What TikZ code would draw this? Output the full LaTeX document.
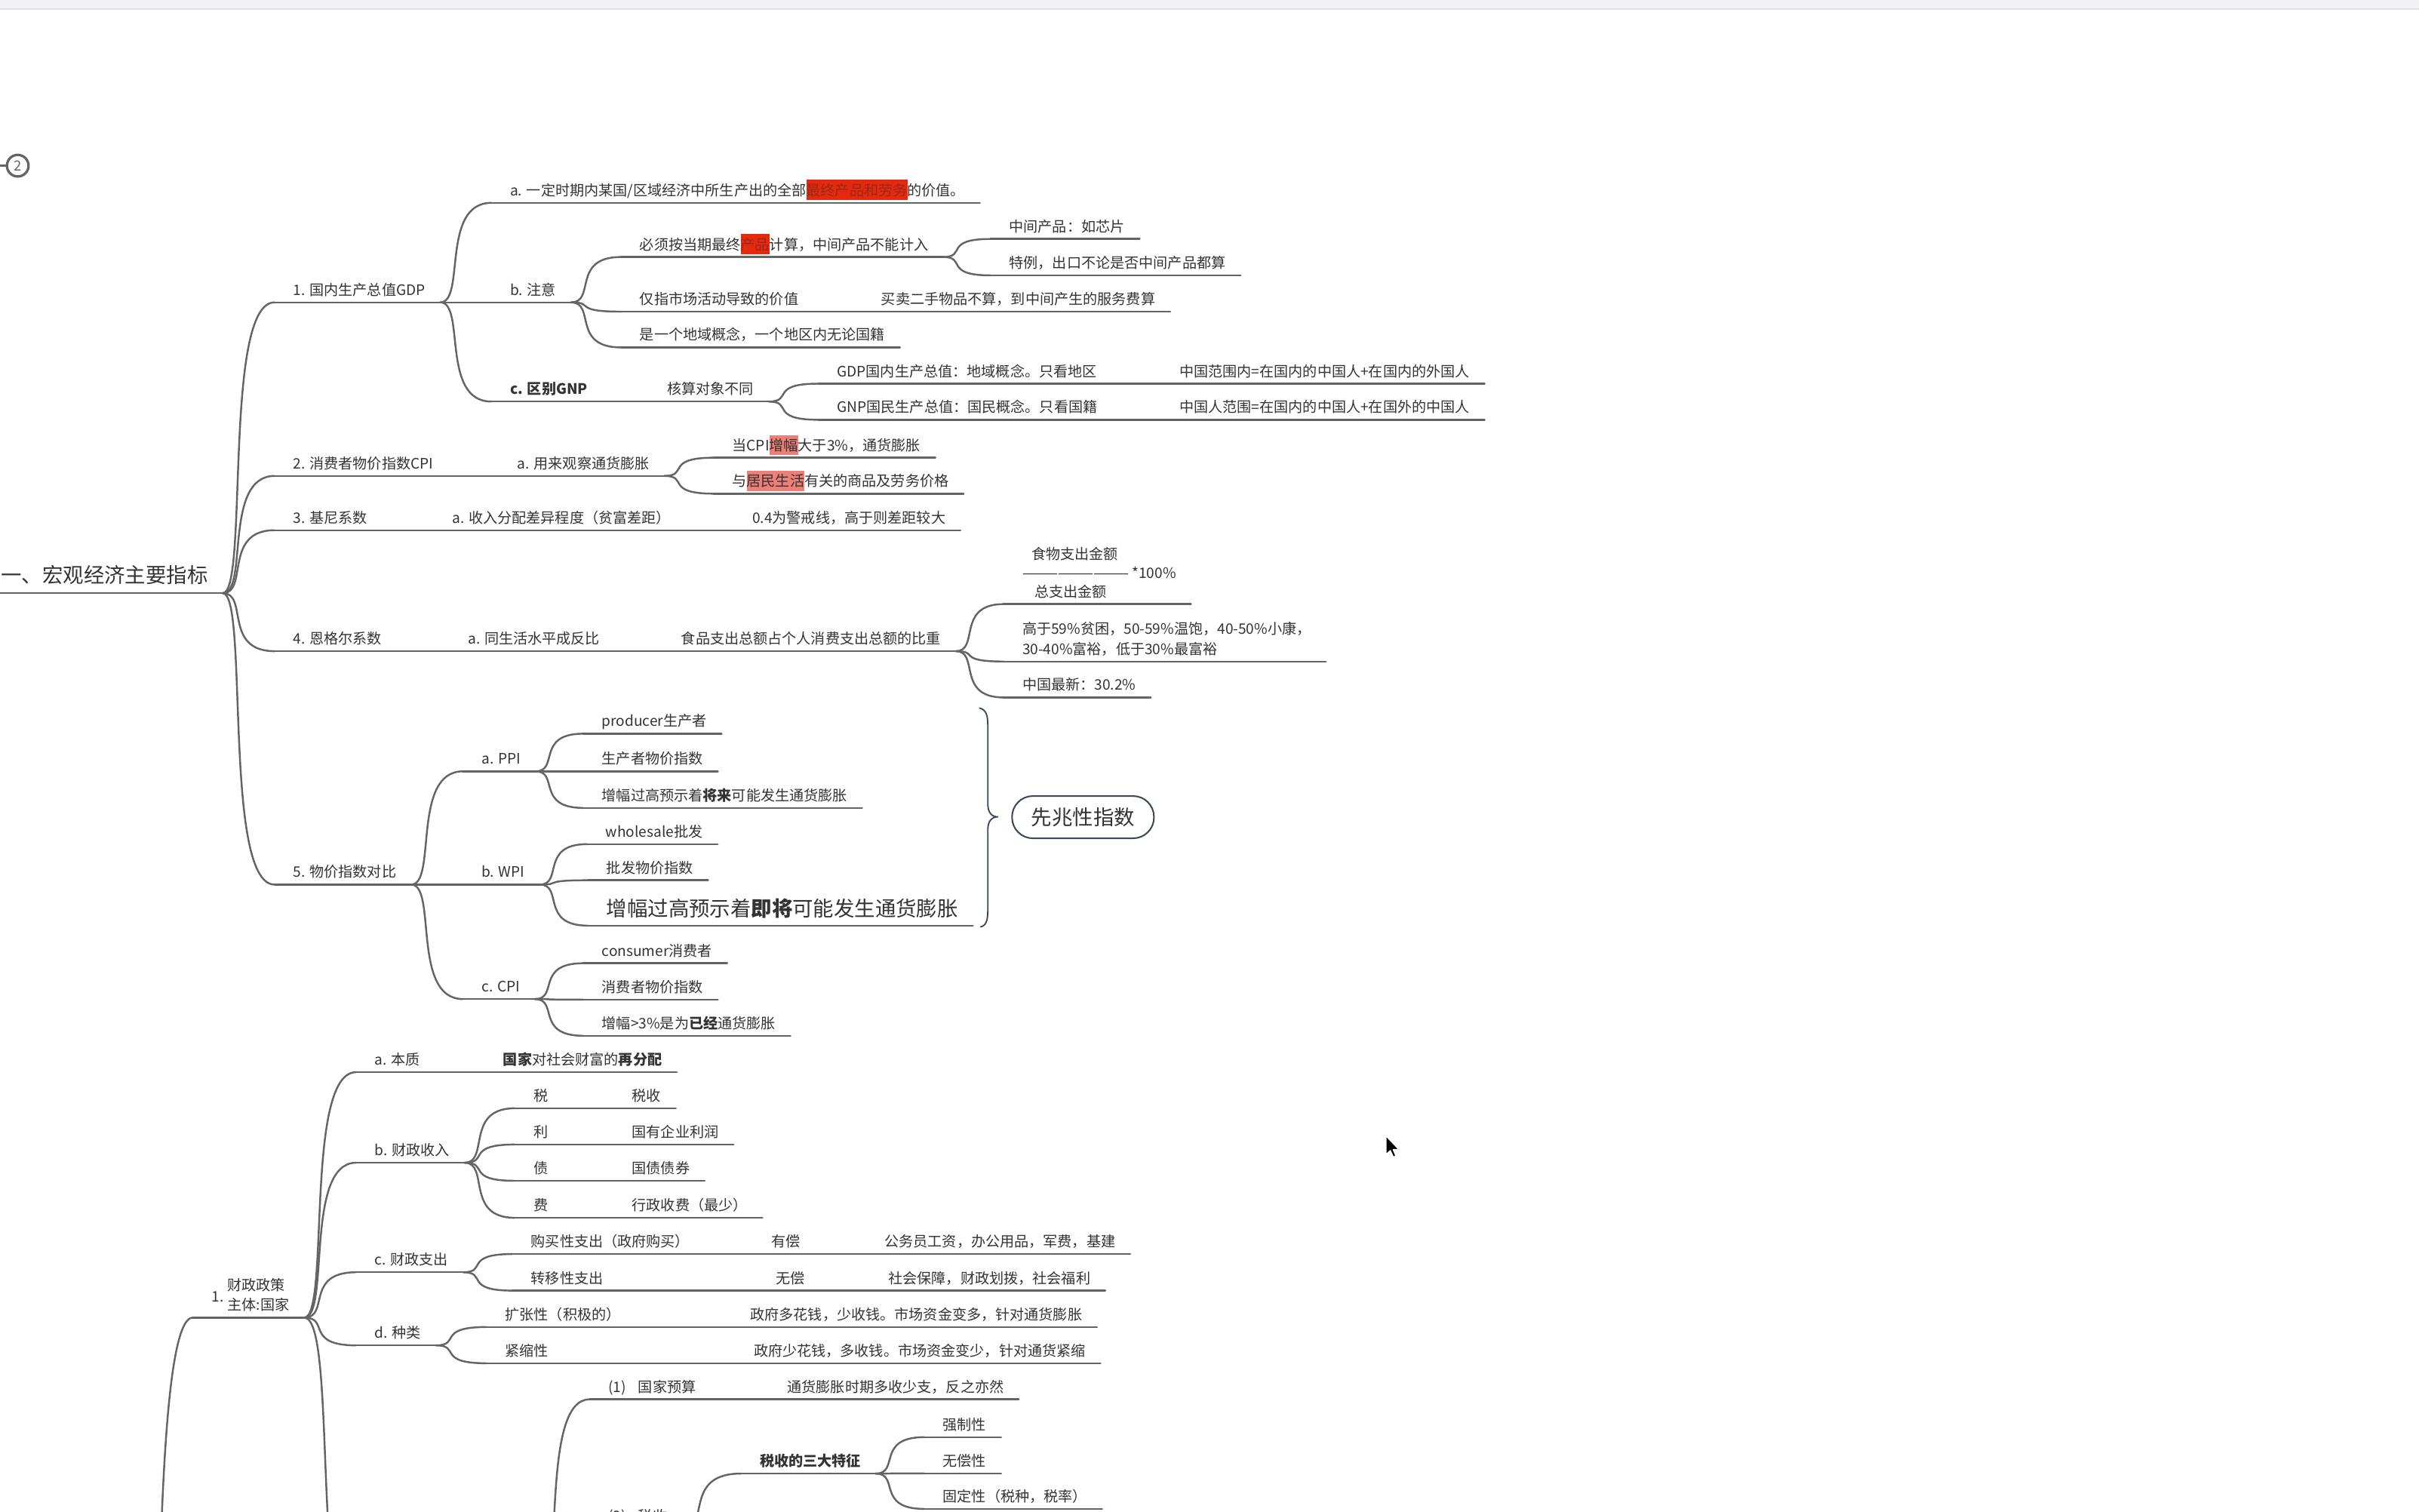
\documentclass[tikz,border=0pt]{standalone}
\usepackage{fontspec}
\setmainfont{Noto Sans CJK SC}
\usetikzlibrary{calc}
\definecolor{txt}{HTML}{333333}
\definecolor{ln}{HTML}{646464}
\definecolor{hlred}{HTML}{E5290F}
\definecolor{hltxt}{HTML}{9A2A18}
\definecolor{hlsal}{HTML}{EE7F76}
\definecolor{slate}{HTML}{3B4858}
\definecolor{barbg}{HTML}{F2F1F6}
\definecolor{barln}{HTML}{E1E0E7}
\newcommand\fsn{\fontsize{9.35}{13}\selectfont}
\newcommand\fsb{\fontsize{13.4}{16}\selectfont}
\newcommand\hlr[1]{{\setlength\fboxsep{0pt}\colorbox{hlred}{\rule[-2.9pt]{0pt}{13.2pt}\textcolor{hltxt}{#1}}}}
\newcommand\hls[1]{{\setlength\fboxsep{0pt}\colorbox{hlsal}{\rule[-3pt]{0pt}{13pt}#1}}}
\tikzset{
  topic/.style={anchor=south west, inner sep=0pt, text depth=4.45pt, text height=7pt,
    text=txt, font=\fsn, execute at begin node={\hskip12pt}, execute at end node={\hskip9.5pt}},
  big/.style={font=\fsb, text depth=5.6pt},
  rootf/.style={font=\fsb, text depth=6.45pt},
  uline/.style={draw=ln, line width=1.2pt, line cap=round},
  conn/.style={draw=ln, line width=1.2pt, line cap=round},
  sumbox/.style={draw=slate, line width=1pt, rounded corners=13.5pt, minimum width=92pt,
    minimum height=27.4pt, font=\fsb, text=txt, inner sep=0pt},
  foldmark/.style={draw=ln, line width=1.6pt, circle, minimum size=14pt, inner sep=0pt,
    font=\fontsize{9}{10}\selectfont, text=ln}
}
\newcommand\tp[5][]{\node[topic,#1] (#2) at (#3,#4) {#5}; \draw[uline] (#2.south west) -- (#2.south east);}
\newcommand\cnp[2]{\draw[conn] let \p1=#1, \p2=#2 in (\p1) .. controls ({0.5*\x1+0.5*\x2},\y1) and (\x1,\y2) .. (\p2);}
\newcommand\cn[2]{\cnp{(#1.south east)}{(#2.south west)}}
\begin{document}
\begin{tikzpicture}[x=1pt,y=-1pt]
\useasboundingbox (0,0) rectangle (1568,980);
\fill[white] (0,0) rectangle (1568,980);
\clip (0,0) rectangle (1568,980);
\fill[barbg] (0,0) rectangle (1568,5.4);
\fill[barln] (0,5.4) rectangle (1568,6.5);

% collapsed marker
\node[foldmark] (fold) at (11.5,107.4) {2};
\coordinate (foldin) at (-5,107.4);
\draw[conn] (foldin) -- (fold.west);

% ---------- upper tree ----------
\tp[rootf]{root}{-11.5}{384.5}{一、宏观经济主要指标}
\tp{gdp}{178}{196}{1. 国内生产总值GDP}
\tp{gdpa}{318.5}{131.5}{a. 一定时期内某国/区域经济中所生产出的全部\hlr{最终产品和劳务}的价值。}
\tp{gdpb}{318.5}{196}{b. 注意}
\tp{gdpc}{318.5}{260.3}{\textbf{c. 区别GNP}}
\tp{bone}{402.5}{166.6}{必须按当期最终\hlr{产品}计算，中间产品不能计入}
\tp{bonea}{642}{154.9}{中间产品：如芯片}
\tp{boneb}{642}{178.5}{特例，出口不论是否中间产品都算}
\tp{btwo}{402.5}{202}{仅指市场活动导致的价值}
\tp{btwoa}{559}{202}{买卖二手物品不算，到中间产生的服务费算}
\tp{bthree}{402.5}{225.2}{是一个地域概念，一个地区内无论国籍}
\tp{cone}{420.3}{260.3}{核算对象不同}
\tp{conea}{530.4}{248.7}{GDP国内生产总值：地域概念。只看地区}
\tp{coneaa}{752.4}{248.7}{中国范围内=在国内的中国人+在国内的外国人}
\tp{coneb}{530.4}{272.1}{GNP国民生产总值：国民概念。只看国籍}
\tp{conebb}{752.4}{272.1}{中国人范围=在国内的中国人+在国外的中国人}

\tp{cpi}{178}{308.5}{2. 消费者物价指数CPI}
\tp{cpia}{323.3}{308.5}{a. 用来观察通货膨胀}
\tp{cpiaa}{462.5}{296.7}{当CPI\hls{增幅}大于3\%，通货膨胀}
\tp{cpiab}{462.5}{320}{与\hls{居民生活}有关的商品及劳务价格}

\tp{gini}{178}{343.7}{3. 基尼系数}
\tp{ginia}{281}{343.7}{a. 收入分配差异程度（贫富差距）}
\tp{ginib}{475.5}{343.7}{0.4为警戒线，高于则差距较大}

\tp{engel}{178}{422.1}{4. 恩格尔系数}
\tp{engela}{291.2}{422.1}{a. 同生活水平成反比}
\tp{engelb}{429.4}{422.1}{食品支出总额占个人消费支出总额的比重}
\tp{engelba}{650.5}{391.6}{\fontsize{9.35}{12.2}\selectfont\begin{tabular}[b]{@{}l@{}}\hspace*{6pt}食物支出金额\\—————————\ *100\%\\\hspace*{8pt}总支出金额\end{tabular}}
\tp{engelbb}{650.5}{428.8}{\begin{tabular}[b]{@{}l@{}}高于59\%贫困，50-59\%温饱，40-50\%小康，\\30-40\%富裕，低于30\%最富裕\end{tabular}}
\tp{engelbc}{650.5}{452.1}{中国最新：30.2\%}

\tp{price}{178}{573.4}{5. 物价指数对比}
\tp{ppi}{300}{500}{a. PPI}
\tp{wpi}{300}{573.4}{b. WPI}
\tp{cpic}{300}{647.6}{c. CPI}
\tp{ppia}{378}{475.6}{producer生产者}
\tp{ppib}{378}{500}{生产者物价指数}
\tp{ppic}{378}{523.7}{增幅过高预示着\textbf{将来}可能发生通货膨胀}
\tp{wpia}{380.5}{547.2}{wholesale批发}
\tp{wpib}{381}{570.6}{批发物价指数}
\tp[big]{wpic}{381}{600}{增幅过高预示着\textbf{即将}可能发生通货膨胀}
\tp{cpica}{378}{624.4}{consumer消费者}
\tp{cpicb}{378}{648}{消费者物价指数}
\tp{cpicc}{378}{671.4}{增幅>3\%是为\textbf{已经}通货膨胀}

% summary brace and label
\draw[slate, line width=0.9pt, line cap=round] (635,459) .. controls (639.3,460) and (640.3,464) .. (640.3,470)
  -- (640.3,521) .. controls (640.3,527) and (643,529.5) .. (646.9,529.5)
  .. controls (643,529.5) and (640.3,532) .. (640.3,538)
  -- (640.3,590) .. controls (640.3,596.5) and (639.3,600) .. (635.6,600.8);
\node[sumbox] (lead) at (702,529.7) {先兆性指数};

% ---------- lower tree ----------
\coordinate (pf) at (92,1300);
\tp{fiscal}{125}{854.1}{\raisebox{5.5pt}{1.}\hspace{2.5pt}\begin{tabular}[b]{@{}l@{}}财政政策\\主体:国家\end{tabular}}
\tp{fa}{230.8}{695}{a. 本质}
\tp{faa}{314}{695}{\textbf{国家}对社会财富的\textbf{再分配}}
\tp{fb}{230.8}{753.7}{b. 财政收入}
\tp{fba}{333.6}{718.4}{税}
\tp{fbaa}{397.5}{718.4}{税收}
\tp{fbb}{333.6}{741.9}{利}
\tp{fbba}{397.5}{741.9}{国有企业利润}
\tp{fbc}{333.6}{765.4}{债}
\tp{fbca}{397.5}{765.4}{国债债券}
\tp{fbd}{333.6}{789.4}{费}
\tp{fbda}{397.5}{789.4}{行政收费（最少）}
\tp{fc}{230.8}{824.7}{c. 财政支出}
\tp{fca}{332}{812.9}{购买性支出（政府购买）}
\tp{fcaa}{488}{812.9}{有偿}
\tp{fcab}{561.2}{812.9}{公务员工资，办公用品，军费，基建}
\tp{fcb}{332}{836.6}{转移性支出}
\tp{fcba}{491}{836.6}{无偿}
\tp{fcbb}{563.7}{836.6}{社会保障，财政划拨，社会福利}
\tp{fd}{230.8}{872.1}{d. 种类}
\tp{fda}{315.3}{860.2}{扩张性（积极的）}
\tp{fdaa}{474.2}{860.2}{政府多花钱，少收钱。市场资金变多，针对通货膨胀}
\tp{fdb}{315.3}{883.7}{紧缩性}
\tp{fdba}{476.4}{883.7}{政府少花钱，多收钱。市场资金变少，针对通货紧缩}
\coordinate (fe) at (245,1100);
\coordinate (pe) at (350,1030);
\tp{qa}{382}{907.1}{(1)\hspace{8pt}国家预算}
\tp{qaa}{498.2}{907.1}{通货膨胀时期多收少支，反之亦然}
\tp{qb}{382}{991}{(2)\hspace{8pt}税收}
\tp{qba}{480.3}{955.2}{\textbf{税收的三大特征}}
\tp{qbaa}{599}{931.6}{强制性}
\tp{qbab}{599}{955.1}{无偿性}
\tp{qbac}{599}{978.1}{固定性（税种，税率）}

% ---------- connectors ----------
\cn{root}{gdp} \cn{root}{cpi} \cn{root}{gini} \cn{root}{engel} \cn{root}{price}
\cn{gdp}{gdpa} \cn{gdp}{gdpb} \cn{gdp}{gdpc}
\cn{gdpb}{bone} \cn{gdpb}{btwo} \cn{gdpb}{bthree}
\cn{bone}{bonea} \cn{bone}{boneb}
\cn{btwo}{btwoa}
\cn{gdpc}{cone} \cn{cone}{conea} \cn{cone}{coneb} \cn{conea}{coneaa} \cn{coneb}{conebb}
\cn{cpi}{cpia} \cn{cpia}{cpiaa} \cn{cpia}{cpiab}
\cn{gini}{ginia} \cn{ginia}{ginib}
\cn{engel}{engela} \cn{engela}{engelb} \cn{engelb}{engelba} \cn{engelb}{engelbb} \cn{engelb}{engelbc}
\cn{price}{ppi} \cn{price}{wpi} \cn{price}{cpic}
\cn{ppi}{ppia} \cn{ppi}{ppib} \cn{ppi}{ppic}
\cn{wpi}{wpia} \cn{wpi}{wpib} \cn{wpi}{wpic}
\cn{cpic}{cpica} \cn{cpic}{cpicb} \cn{cpic}{cpicc}
\cnp{(pf)}{(fiscal.south west)}
\cn{fiscal}{fa} \cn{fiscal}{fb} \cn{fiscal}{fc} \cn{fiscal}{fd} \cnp{(fiscal.south east)}{(fe)}
\cn{fa}{faa}
\cn{fb}{fba} \cn{fb}{fbb} \cn{fb}{fbc} \cn{fb}{fbd}
\cn{fba}{fbaa} \cn{fbb}{fbba} \cn{fbc}{fbca} \cn{fbd}{fbda}
\cn{fc}{fca} \cn{fc}{fcb} \cn{fca}{fcaa} \cn{fcaa}{fcab} \cn{fcb}{fcba} \cn{fcba}{fcbb}
\cn{fd}{fda} \cn{fd}{fdb} \cn{fda}{fdaa} \cn{fdb}{fdba}
\cnp{(pe)}{(qa.south west)} \cnp{(pe)}{(qb.south west)}
\cn{qa}{qaa} \cn{qb}{qba} \cn{qba}{qbaa} \cn{qba}{qbab} \cn{qba}{qbac}

% mouse pointer
\filldraw[fill=black, draw=white, line width=0.8pt, line join=round] (898.3,736.1) -- ++(0,12.4) -- ++(2.9,-2.6) -- ++(1.9,4.2) -- ++(1.8,-0.8) -- ++(-1.8,-4.1) -- ++(3.8,0) -- cycle;
\end{tikzpicture}
\end{document}
